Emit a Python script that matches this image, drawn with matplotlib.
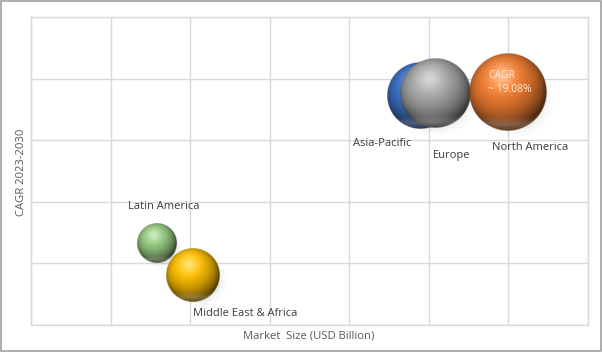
import numpy as np
import matplotlib
matplotlib.use("Agg")
import matplotlib.pyplot as plt
from matplotlib.colors import to_rgb
from matplotlib.patches import Rectangle

# ---------- DATA ----------
regions = ["Asia-Pacific", "Europe", "North America", "Latin America", "Middle East & Africa"]
market_size = [4.89, 5.08, 5.99, 1.58, 2.04]   # x position (grid units)
cagr = [3.72, 3.77, 3.78, 1.33, 0.81]           # y position (grid units)
bubble_size = [33, 35, 39, 20, 27]              # relative bubble radius
colors = ["#3d6fc4", "#a3a3a3", "#e8792f", "#93c47d", "#f5b800"]
callout = "CAGR\n~ 19.08%"

# label offsets in points from bubble centre
label_offsets = [(-27, -34), (12, -45), (16, -40), (5, 26), (37, -28)]

FIG_W, FIG_H, DPI = 6.02, 3.52, 100
fig = plt.figure(figsize=(FIG_W, FIG_H), dpi=DPI)
ax = fig.add_axes([31 / 602, 1 - 325 / 352, 557 / 602, 308 / 352])

plt.rcParams["font.family"] = ["Open Sans", "DejaVu Sans"]
txt_col = "#3a3a3a"


def sphere_rgba(base, n=200):
    r, g, b = to_rgb(base)
    base = np.array([r, g, b])
    u = np.linspace(-1, 1, n)
    U, V = np.meshgrid(u, u)
    R = np.sqrt(U ** 2 + V ** 2)
    nz = np.sqrt(np.clip(1 - R ** 2, 0, 1))
    L = np.array([-0.2, 0.4, 0.9])
    L = L / np.linalg.norm(L)
    diff = np.clip(U * L[0] + V * L[1] + nz * L[2], 0, 1)
    spec = 0.45 * np.exp(-((U + 0.15) ** 2 + (V - 0.40) ** 2) / 0.10)
    rim = np.exp(-((V + 0.85) ** 2) / 0.02) * (R < 1) * 0.2
    shade = 0.35 + 0.75 * diff
    img = base[None, None, :] * shade[..., None]
    img = img + (1 - img) * (spec + rim)[..., None]
    img = np.clip(img, 0, 1)
    alpha = np.clip((1 - R) * n / 2, 0, 1)
    return np.dstack([img, alpha])


def shadow_rgba(n=120):
    u = np.linspace(-1, 1, n)
    U, V = np.meshgrid(u, u)
    R = np.sqrt(U ** 2 + V ** 2)
    a = np.clip(1 - R, 0, 1) ** 1.5 * 0.35
    return np.dstack([np.zeros((n, n, 3)), a])


ax.set_xlim(0, 7)
ax.set_ylim(0, 5)
px_x = 557 / 7
px_y = 308 / 5

for i, name in enumerate(regions):
    x, y, s = market_size[i], cagr[i], bubble_size[i]
    rx, ry = s / px_x, s / px_y
    # soft shadow
    ax.imshow(shadow_rgba(), extent=[x - rx * 0.95 + 4 / px_x, x + rx * 1.15 + 4 / px_x,
                                     y - ry * 1.15 - 4 / px_y, y + ry * 0.95 - 4 / px_y],
              origin="lower", aspect="auto", zorder=2 + 2 * i, interpolation="bilinear")
    ax.imshow(sphere_rgba(colors[i]), extent=[x - rx, x + rx, y - ry, y + ry],
              origin="lower", aspect="auto", zorder=3 + 2 * i, interpolation="bilinear")
    ax.annotate(name, (x, y), xytext=label_offsets[i], textcoords="offset points",
                ha="center", va="center", fontsize=8, color=txt_col, zorder=20)

# callout inside North America bubble
ax.annotate(callout, (market_size[2], cagr[2]), xytext=(-14, 7), textcoords="offset points",
            ha="left", va="center", fontsize=7.5, color="#fde6d4", linespacing=1.3, zorder=21)

ax.set_xlim(0, 7)
ax.set_ylim(0, 5)
ax.set_xticks(np.arange(0, 8))
ax.set_yticks(np.arange(0, 6))
ax.grid(True, color="#d9d9d9", linewidth=1)
ax.set_axisbelow(True)
ax.tick_params(length=0, labelbottom=False, labelleft=False)
for sp in ax.spines.values():
    sp.set_color("#d9d9d9")
    sp.set_linewidth(1)

fig.text(309 / 602, 1 - 336 / 352, "Market  Size (USD Billion)", ha="center", va="center",
         fontsize=8.1, color="#595959")
fig.text(22 / 602, 1 - 172 / 352, "CAGR 2023-2030", ha="center", va="center",
         rotation=90, fontsize=8.1, color="#595959")

fig.patches.append(Rectangle((0.001, 0.002), 0.997, 0.995, transform=fig.transFigure,
                             fill=False, edgecolor="#a0a0a0", linewidth=1.2))

fig.savefig("out.png", dpi=DPI)
